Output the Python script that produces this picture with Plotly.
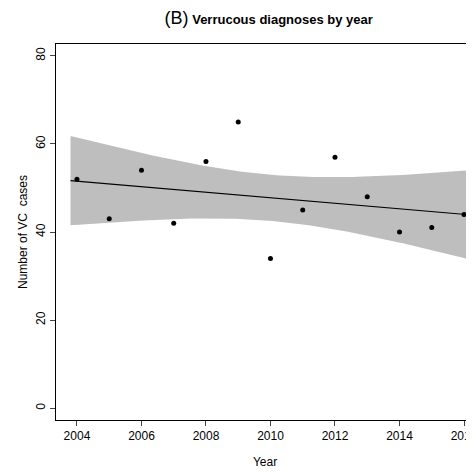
import numpy as np
import plotly.graph_objects as go

years = [2004, 2005, 2006, 2007, 2008, 2009, 2010, 2011, 2012, 2013, 2014, 2015, 2016]
cases = [52, 43, 54, 42, 56, 65, 34, 45, 57, 48, 40, 41, 44]

x = np.array(years, float); y = np.array(cases, float)
n = len(x)
b, a = np.polyfit(x, y, 1)
xs = np.linspace(x.min() - 0.2, x.max() + 0.2, 100)
fit = a + b * xs
res = y - (a + b * x)
s = np.sqrt((res ** 2).sum() / (n - 2))
se = s * np.sqrt(1 / n + (xs - x.mean()) ** 2 / ((x - x.mean()) ** 2).sum())
t = 2.201
up, lo = fit + t * se, fit - t * se

fig = go.Figure()
fig.add_trace(go.Scatter(x=np.concatenate([xs, xs[::-1]]), y=np.concatenate([up, lo[::-1]]),
                         fill="toself", fillcolor="#bebebe", line=dict(width=0), mode="lines", hoverinfo="skip"))
fig.add_trace(go.Scatter(x=xs, y=fit, mode="lines", line=dict(color="black", width=1.2)))
fig.add_trace(go.Scatter(x=years, y=cases, mode="markers", marker=dict(color="black", size=5)))

fig.update_layout(
    width=474, height=474, showlegend=False, plot_bgcolor="white", paper_bgcolor="white",
    margin=dict(l=48, r=8, t=36, b=62),
    font=dict(family="Liberation Sans, Arial", color="black", size=12),
    title=dict(text="<span style='font-size:18px'>(B)</span> <b>Verrucous diagnoses by year</b>",
               x=0.55, xanchor="center", y=0.985, yanchor="top", font=dict(size=13), automargin=False),
    xaxis=dict(range=[2003.35, 2016.31], tickvals=list(range(2004, 2017, 2)), showgrid=False,
               zeroline=False, ticks="outside", ticklen=5, mirror=True, showline=True, linecolor="black",
               title=dict(text="Year", font=dict(size=12)), tickfont=dict(size=12), automargin=False),
    yaxis=dict(range=[-2.7, 82.7], tickvals=[0, 20, 40, 60, 80], showgrid=False, zeroline=False,
               ticks="outside", ticklen=5, mirror=True, showline=True, linecolor="black",
               tickangle=-90, title=dict(text="Number of VC  cases", font=dict(size=12), standoff=4),
               tickfont=dict(size=12), automargin=False),
)
fig.write_html("out.html")
